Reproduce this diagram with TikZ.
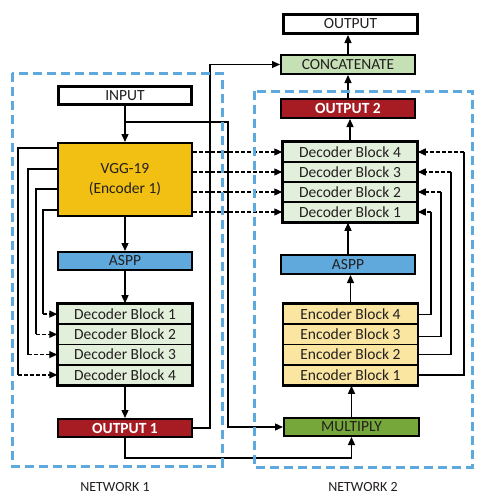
\documentclass[tikz,border=0pt]{standalone}
\usepackage{fontspec}
\setmainfont{Carlito}
\usetikzlibrary{arrows.meta,calc}
\definecolor{txt}{RGB}{35,31,32}
\definecolor{vggc}{RGB}{241,192,18}
\definecolor{asppc}{RGB}{95,169,220}
\definecolor{decc}{RGB}{226,239,218}
\definecolor{encc}{RGB}{250,230,160}
\definecolor{concc}{RGB}{197,224,180}
\definecolor{redc}{RGB}{166,28,34}
\definecolor{multc}{RGB}{118,167,58}
\definecolor{netblue}{RGB}{93,169,221}
\begin{document}
\begin{tikzpicture}[x=1pt,y=-1pt,
  blk/.style={draw=black, line width=2pt, minimum width=134pt, minimum height=18pt, inner sep=0pt,
    font=\fontsize{15.5}{20}\selectfont, text=txt},
  thk/.style={blk, line width=3pt},
  rowbox/.style={blk, line width=1.5pt, minimum height=20.25pt},
  redbox/.style={blk, fill=redc, text=white, font=\fontsize{15.5}{20}\selectfont\bfseries},
  arr/.style={-{Triangle[length=8pt,width=7pt]}, line width=1.3pt},
  conn/.style={line width=1.2pt},
  darr/.style={arr, dash pattern=on 4pt off 2pt},
  netbox/.style={draw=netblue, line width=3pt, dash pattern=on 9pt off 5pt},
  lbl/.style={font=\fontsize{14}{16}\selectfont, text=txt}]
\useasboundingbox (0,0) rectangle (486,501);
\fill[white] (0,0) rectangle (486,501);

% Network 1
\node[thk, fill=white, minimum width=133pt, minimum height=18pt] (input) at (125,95.5) {INPUT};
\node[blk, fill=vggc, minimum height=73pt, align=center] (vgg) at (125,179.5) {VGG-19\\(Encoder 1)};
\node[blk, fill=asppc] (aspp1) at (125,261) {ASPP};
\node[rowbox, fill=decc] (d1r1) at (125,314.1) {Decoder Block 1};
\node[rowbox, fill=decc] (d1r2) at (125,334.4) {Decoder Block 2};
\node[rowbox, fill=decc] (d1r3) at (125,354.6) {Decoder Block 3};
\node[rowbox, fill=decc] (d1r4) at (125,374.9) {Decoder Block 4};
\draw[line width=2pt] (d1r1.north west) rectangle (d1r4.south east);
\node[redbox] (out1) at (125,428) {OUTPUT 1};

% Network 2
\node[thk, fill=white, minimum width=134pt, minimum height=19pt] (output) at (350.5,24) {OUTPUT};
\node[blk, fill=concc, minimum height=19pt] (concat) at (348,64.5) {CONCATENATE};
\node[redbox, minimum height=19pt] (out2) at (348,108.5) {OUTPUT 2};
\node[rowbox, fill=decc, minimum height=20pt] (d2r4) at (350,152) {Decoder Block 4};
\node[rowbox, fill=decc, minimum height=20pt] (d2r3) at (350,172) {Decoder Block 3};
\node[rowbox, fill=decc, minimum height=20pt] (d2r2) at (350,192) {Decoder Block 2};
\node[rowbox, fill=decc, minimum height=20pt] (d2r1) at (350,212) {Decoder Block 1};
\draw[line width=2pt] (d2r4.north west) rectangle (d2r1.south east);
\node[blk, fill=asppc, minimum height=19pt] (aspp2) at (348,264.5) {ASPP};
\node[rowbox, fill=encc] (e4) at (350.5,314.1) {Encoder Block 4};
\node[rowbox, fill=encc] (e3) at (350.5,334.4) {Encoder Block 3};
\node[rowbox, fill=encc] (e2) at (350.5,354.6) {Encoder Block 2};
\node[rowbox, fill=encc] (e1) at (350.5,374.9) {Encoder Block 1};
\draw[line width=2pt] (e4.north west) rectangle (e1.south east);
\node[blk, fill=multc, minimum width=135pt] (mult) at (351.5,427) {MULTIPLY};

% main arrows network 1
\draw[arr] (input.south) -- (vgg.north);
\coordinate (j1) at (125,122);
\draw[arr] (j1) -- ++(103,0) |- (mult.west);
\draw[arr] (vgg.south) -- (aspp1.north);
\draw[arr] (aspp1.south) -- (d1r1.north);
\draw[arr] (d1r4.south) -- (out1.north);
\draw[arr] (out1.east) -- ++(17,0) |- (concat.west);
\draw[arr] (out1.south) -- ++(0,20) -| (mult.south);

% main arrows network 2
\draw[arr] (concat.north) -- (concat.north |- output.south);
\draw[arr] (out2.north) -- (out2.north |- concat.south);
\draw[arr] (d2r4.north) -- (d2r4.north |- out2.south);
\draw[arr] (aspp2.north) -- (aspp2.north |- d2r1.south);
\draw[arr] (e4.north) -- (e4.north |- aspp2.south);
\draw[arr] (mult.north) -- (mult.north |- e1.south);

% left skip connections
\coordinate (l4) at (d1r4.west -| 18,0);
\coordinate (l3) at (d1r3.west -| 28,0);
\coordinate (l2) at (d1r2.west -| 36,0);
\coordinate (l1) at (d1r1.west -| 43,0);
\draw[conn] ([yshift=31.5pt]vgg.west) -| (l4);
\draw[conn] ([yshift=10.5pt]vgg.west) -| (l3);
\draw[conn] ([yshift=-9.5pt]vgg.west) -| (l2);
\draw[conn] ([yshift=-30.5pt]vgg.west) -| (l1);
\draw[darr] (l4) -- (d1r4.west);
\draw[darr] (l3) -- (d1r3.west);
\draw[darr] (l2) -- (d1r2.west);
\draw[darr] (l1) -- (d1r1.west);

% VGG to decoder 2
\draw[darr] (vgg.east |- d2r4.west) -- (d2r4.west);
\draw[darr] (vgg.east |- d2r3.west) -- (d2r3.west);
\draw[darr] (vgg.east |- d2r2.west) -- (d2r2.west);
\draw[darr] (vgg.east |- d2r1.west) -- (d2r1.west);

% right skip connections
\coordinate (r1) at (d2r1.east -| 431,0);
\coordinate (r2) at (d2r2.east -| 441,0);
\coordinate (r3) at (d2r3.east -| 451,0);
\coordinate (r4) at (d2r4.east -| 464,0);
\draw[conn] (e4.east) -| (r1);
\draw[conn] ([yshift=-2pt]e3.east) -| (r2);
\draw[conn] (e2.east) -| (r3);
\draw[conn] (e1.east) -| (r4);
\draw[darr] (r1) -- (d2r1.east);
\draw[darr] (r2) -- (d2r2.east);
\draw[darr] (r3) -- (d2r3.east);
\draw[darr] (r4) -- (d2r4.east);

% network boxes
\draw[netbox] (12,73) rectangle (222,466);
\draw[netbox] (254,91) rectangle (472,467);
\node[lbl] (n1) at (115,487) {NETWORK 1};
\node[lbl] (n2) at (363,487) {NETWORK 2};
\end{tikzpicture}
\end{document}
